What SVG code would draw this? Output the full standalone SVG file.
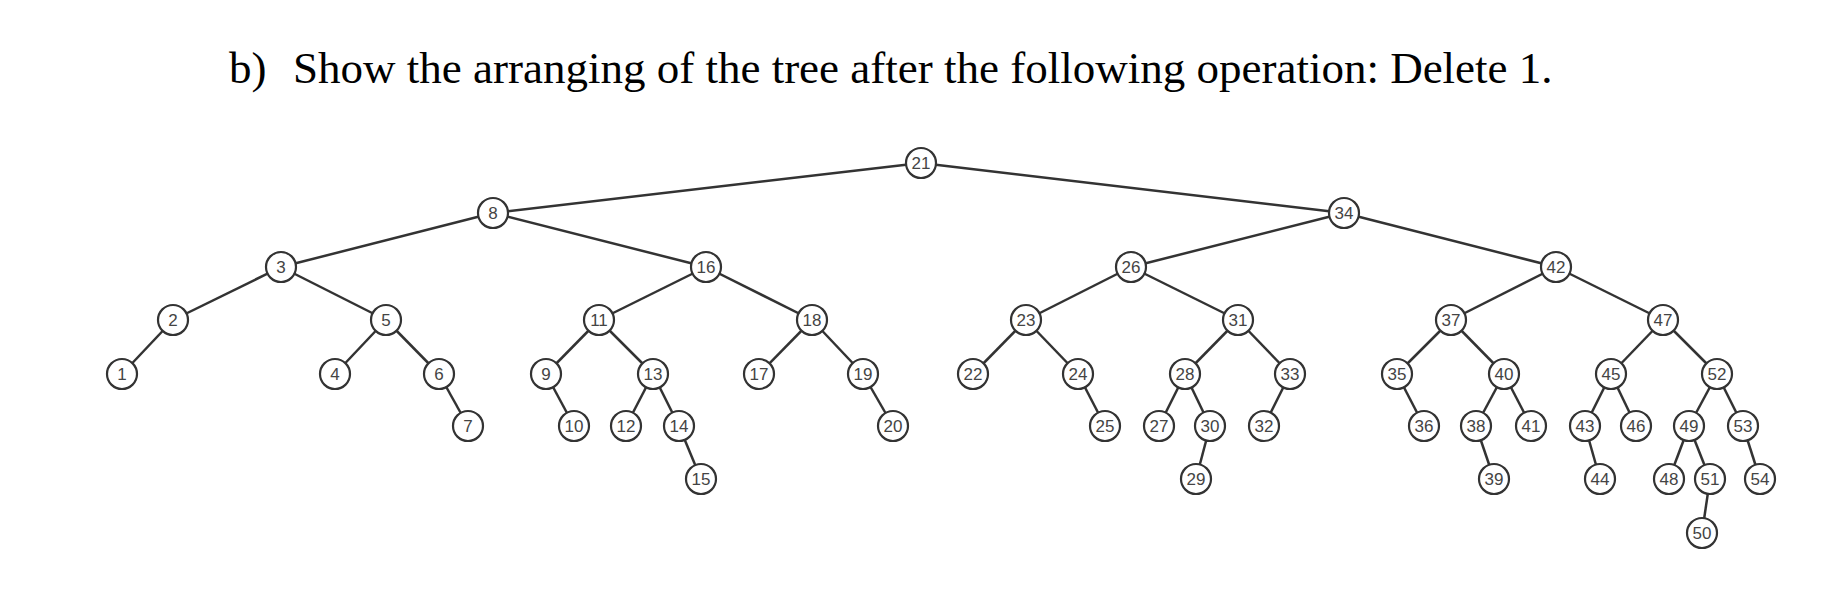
<svg xmlns="http://www.w3.org/2000/svg" width="1842" height="608" viewBox="0 0 1842 608">
<style>
.e{stroke:#333;stroke-width:2.5;fill:none}
.n circle{fill:#fff;stroke:#333;stroke-width:2.2}
.n text{font-family:"Liberation Sans",Arial,sans-serif;font-size:17px;fill:#444;text-anchor:middle;dominant-baseline:central}
.t{font-family:"Liberation Serif","Times New Roman",serif;font-size:45px;fill:#000}
</style>
<rect width="1842" height="608" fill="#fff"/>
<text class="t" x="229" y="83">b)</text>
<text class="t" x="293" y="83">Show the arranging of the tree after the following operation: Delete 1.</text>
<g id="connectors">
<line class="e" x1="921" y1="163" x2="493" y2="213"/>
<line class="e" x1="921" y1="163" x2="1344" y2="213"/>
<line class="e" x1="493" y1="213" x2="281" y2="267"/>
<line class="e" x1="493" y1="213" x2="706" y2="267"/>
<line class="e" x1="281" y1="267" x2="173" y2="320"/>
<line class="e" x1="281" y1="267" x2="386" y2="320"/>
<line class="e" x1="173" y1="320" x2="122" y2="374"/>
<line class="e" x1="386" y1="320" x2="335" y2="374"/>
<line class="e" x1="386" y1="320" x2="439" y2="374"/>
<line class="e" x1="439" y1="374" x2="468" y2="426"/>
<line class="e" x1="706" y1="267" x2="599" y2="320"/>
<line class="e" x1="706" y1="267" x2="812" y2="320"/>
<line class="e" x1="599" y1="320" x2="546" y2="374"/>
<line class="e" x1="599" y1="320" x2="653" y2="374"/>
<line class="e" x1="546" y1="374" x2="574" y2="426"/>
<line class="e" x1="653" y1="374" x2="626" y2="426"/>
<line class="e" x1="653" y1="374" x2="679" y2="426"/>
<line class="e" x1="679" y1="426" x2="701" y2="479"/>
<line class="e" x1="812" y1="320" x2="759" y2="374"/>
<line class="e" x1="812" y1="320" x2="863" y2="374"/>
<line class="e" x1="863" y1="374" x2="893" y2="426"/>
<line class="e" x1="1344" y1="213" x2="1131" y2="267"/>
<line class="e" x1="1344" y1="213" x2="1556" y2="267"/>
<line class="e" x1="1131" y1="267" x2="1026" y2="320"/>
<line class="e" x1="1131" y1="267" x2="1238" y2="320"/>
<line class="e" x1="1026" y1="320" x2="973" y2="374"/>
<line class="e" x1="1026" y1="320" x2="1078" y2="374"/>
<line class="e" x1="1078" y1="374" x2="1105" y2="426"/>
<line class="e" x1="1238" y1="320" x2="1185" y2="374"/>
<line class="e" x1="1238" y1="320" x2="1290" y2="374"/>
<line class="e" x1="1185" y1="374" x2="1159" y2="426"/>
<line class="e" x1="1185" y1="374" x2="1210" y2="426"/>
<line class="e" x1="1210" y1="426" x2="1196" y2="479"/>
<line class="e" x1="1290" y1="374" x2="1264" y2="426"/>
<line class="e" x1="1556" y1="267" x2="1451" y2="320"/>
<line class="e" x1="1556" y1="267" x2="1663" y2="320"/>
<line class="e" x1="1451" y1="320" x2="1397" y2="374"/>
<line class="e" x1="1451" y1="320" x2="1504" y2="374"/>
<line class="e" x1="1397" y1="374" x2="1424" y2="426"/>
<line class="e" x1="1504" y1="374" x2="1476" y2="426"/>
<line class="e" x1="1504" y1="374" x2="1531" y2="426"/>
<line class="e" x1="1476" y1="426" x2="1494" y2="479"/>
<line class="e" x1="1663" y1="320" x2="1611" y2="374"/>
<line class="e" x1="1663" y1="320" x2="1717" y2="374"/>
<line class="e" x1="1611" y1="374" x2="1585" y2="426"/>
<line class="e" x1="1611" y1="374" x2="1636" y2="426"/>
<line class="e" x1="1585" y1="426" x2="1600" y2="479"/>
<line class="e" x1="1717" y1="374" x2="1689" y2="426"/>
<line class="e" x1="1717" y1="374" x2="1743" y2="426"/>
<line class="e" x1="1689" y1="426" x2="1669" y2="479"/>
<line class="e" x1="1689" y1="426" x2="1710" y2="479"/>
<line class="e" x1="1710" y1="479" x2="1702" y2="533"/>
<line class="e" x1="1743" y1="426" x2="1760" y2="479"/>
</g>
<defs><circle id="c" r="15"/></defs>
<g id="n21" class="n"><circle cx="921" cy="163" r="15"/><text x="921" y="163">21</text></g>
<g id="n8" class="n"><circle cx="493" cy="213" r="15"/><text x="493" y="213">8</text></g>
<g id="n3" class="n"><circle cx="281" cy="267" r="15"/><text x="281" y="267">3</text></g>
<g id="n16" class="n"><circle cx="706" cy="267" r="15"/><text x="706" y="267">16</text></g>
<g id="n2" class="n"><circle cx="173" cy="320" r="15"/><text x="173" y="320">2</text></g>
<g id="n5" class="n"><circle cx="386" cy="320" r="15"/><text x="386" y="320">5</text></g>
<g id="n1" class="n"><circle cx="122" cy="374" r="15"/><text x="122" y="374">1</text></g>
<g id="n4" class="n"><circle cx="335" cy="374" r="15"/><text x="335" y="374">4</text></g>
<g id="n6" class="n"><circle cx="439" cy="374" r="15"/><text x="439" y="374">6</text></g>
<g id="n7" class="n"><circle cx="468" cy="426" r="15"/><text x="468" y="426">7</text></g>
<g id="n11" class="n"><circle cx="599" cy="320" r="15"/><text x="599" y="320">11</text></g>
<g id="n18" class="n"><circle cx="812" cy="320" r="15"/><text x="812" y="320">18</text></g>
<g id="n9" class="n"><circle cx="546" cy="374" r="15"/><text x="546" y="374">9</text></g>
<g id="n13" class="n"><circle cx="653" cy="374" r="15"/><text x="653" y="374">13</text></g>
<g id="n10" class="n"><circle cx="574" cy="426" r="15"/><text x="574" y="426">10</text></g>
<g id="n12" class="n"><circle cx="626" cy="426" r="15"/><text x="626" y="426">12</text></g>
<g id="n14" class="n"><circle cx="679" cy="426" r="15"/><text x="679" y="426">14</text></g>
<g id="n15" class="n"><circle cx="701" cy="479" r="15"/><text x="701" y="479">15</text></g>
<g id="n17" class="n"><circle cx="759" cy="374" r="15"/><text x="759" y="374">17</text></g>
<g id="n19" class="n"><circle cx="863" cy="374" r="15"/><text x="863" y="374">19</text></g>
<g id="n20" class="n"><circle cx="893" cy="426" r="15"/><text x="893" y="426">20</text></g>
<g id="n34" class="n"><circle cx="1344" cy="213" r="15"/><text x="1344" y="213">34</text></g>
<g id="n26" class="n"><circle cx="1131" cy="267" r="15"/><text x="1131" y="267">26</text></g>
<g id="n42" class="n"><circle cx="1556" cy="267" r="15"/><text x="1556" y="267">42</text></g>
<g id="n23" class="n"><circle cx="1026" cy="320" r="15"/><text x="1026" y="320">23</text></g>
<g id="n31" class="n"><circle cx="1238" cy="320" r="15"/><text x="1238" y="320">31</text></g>
<g id="n22" class="n"><circle cx="973" cy="374" r="15"/><text x="973" y="374">22</text></g>
<g id="n24" class="n"><circle cx="1078" cy="374" r="15"/><text x="1078" y="374">24</text></g>
<g id="n25" class="n"><circle cx="1105" cy="426" r="15"/><text x="1105" y="426">25</text></g>
<g id="n28" class="n"><circle cx="1185" cy="374" r="15"/><text x="1185" y="374">28</text></g>
<g id="n33" class="n"><circle cx="1290" cy="374" r="15"/><text x="1290" y="374">33</text></g>
<g id="n27" class="n"><circle cx="1159" cy="426" r="15"/><text x="1159" y="426">27</text></g>
<g id="n30" class="n"><circle cx="1210" cy="426" r="15"/><text x="1210" y="426">30</text></g>
<g id="n29" class="n"><circle cx="1196" cy="479" r="15"/><text x="1196" y="479">29</text></g>
<g id="n32" class="n"><circle cx="1264" cy="426" r="15"/><text x="1264" y="426">32</text></g>
<g id="n37" class="n"><circle cx="1451" cy="320" r="15"/><text x="1451" y="320">37</text></g>
<g id="n47" class="n"><circle cx="1663" cy="320" r="15"/><text x="1663" y="320">47</text></g>
<g id="n35" class="n"><circle cx="1397" cy="374" r="15"/><text x="1397" y="374">35</text></g>
<g id="n40" class="n"><circle cx="1504" cy="374" r="15"/><text x="1504" y="374">40</text></g>
<g id="n36" class="n"><circle cx="1424" cy="426" r="15"/><text x="1424" y="426">36</text></g>
<g id="n38" class="n"><circle cx="1476" cy="426" r="15"/><text x="1476" y="426">38</text></g>
<g id="n41" class="n"><circle cx="1531" cy="426" r="15"/><text x="1531" y="426">41</text></g>
<g id="n39" class="n"><circle cx="1494" cy="479" r="15"/><text x="1494" y="479">39</text></g>
<g id="n45" class="n"><circle cx="1611" cy="374" r="15"/><text x="1611" y="374">45</text></g>
<g id="n52" class="n"><circle cx="1717" cy="374" r="15"/><text x="1717" y="374">52</text></g>
<g id="n43" class="n"><circle cx="1585" cy="426" r="15"/><text x="1585" y="426">43</text></g>
<g id="n46" class="n"><circle cx="1636" cy="426" r="15"/><text x="1636" y="426">46</text></g>
<g id="n44" class="n"><circle cx="1600" cy="479" r="15"/><text x="1600" y="479">44</text></g>
<g id="n49" class="n"><circle cx="1689" cy="426" r="15"/><text x="1689" y="426">49</text></g>
<g id="n53" class="n"><circle cx="1743" cy="426" r="15"/><text x="1743" y="426">53</text></g>
<g id="n48" class="n"><circle cx="1669" cy="479" r="15"/><text x="1669" y="479">48</text></g>
<g id="n51" class="n"><circle cx="1710" cy="479" r="15"/><text x="1710" y="479">51</text></g>
<g id="n54" class="n"><circle cx="1760" cy="479" r="15"/><text x="1760" y="479">54</text></g>
<g id="n50" class="n"><circle cx="1702" cy="533" r="15"/><text x="1702" y="533">50</text></g>
</svg>
